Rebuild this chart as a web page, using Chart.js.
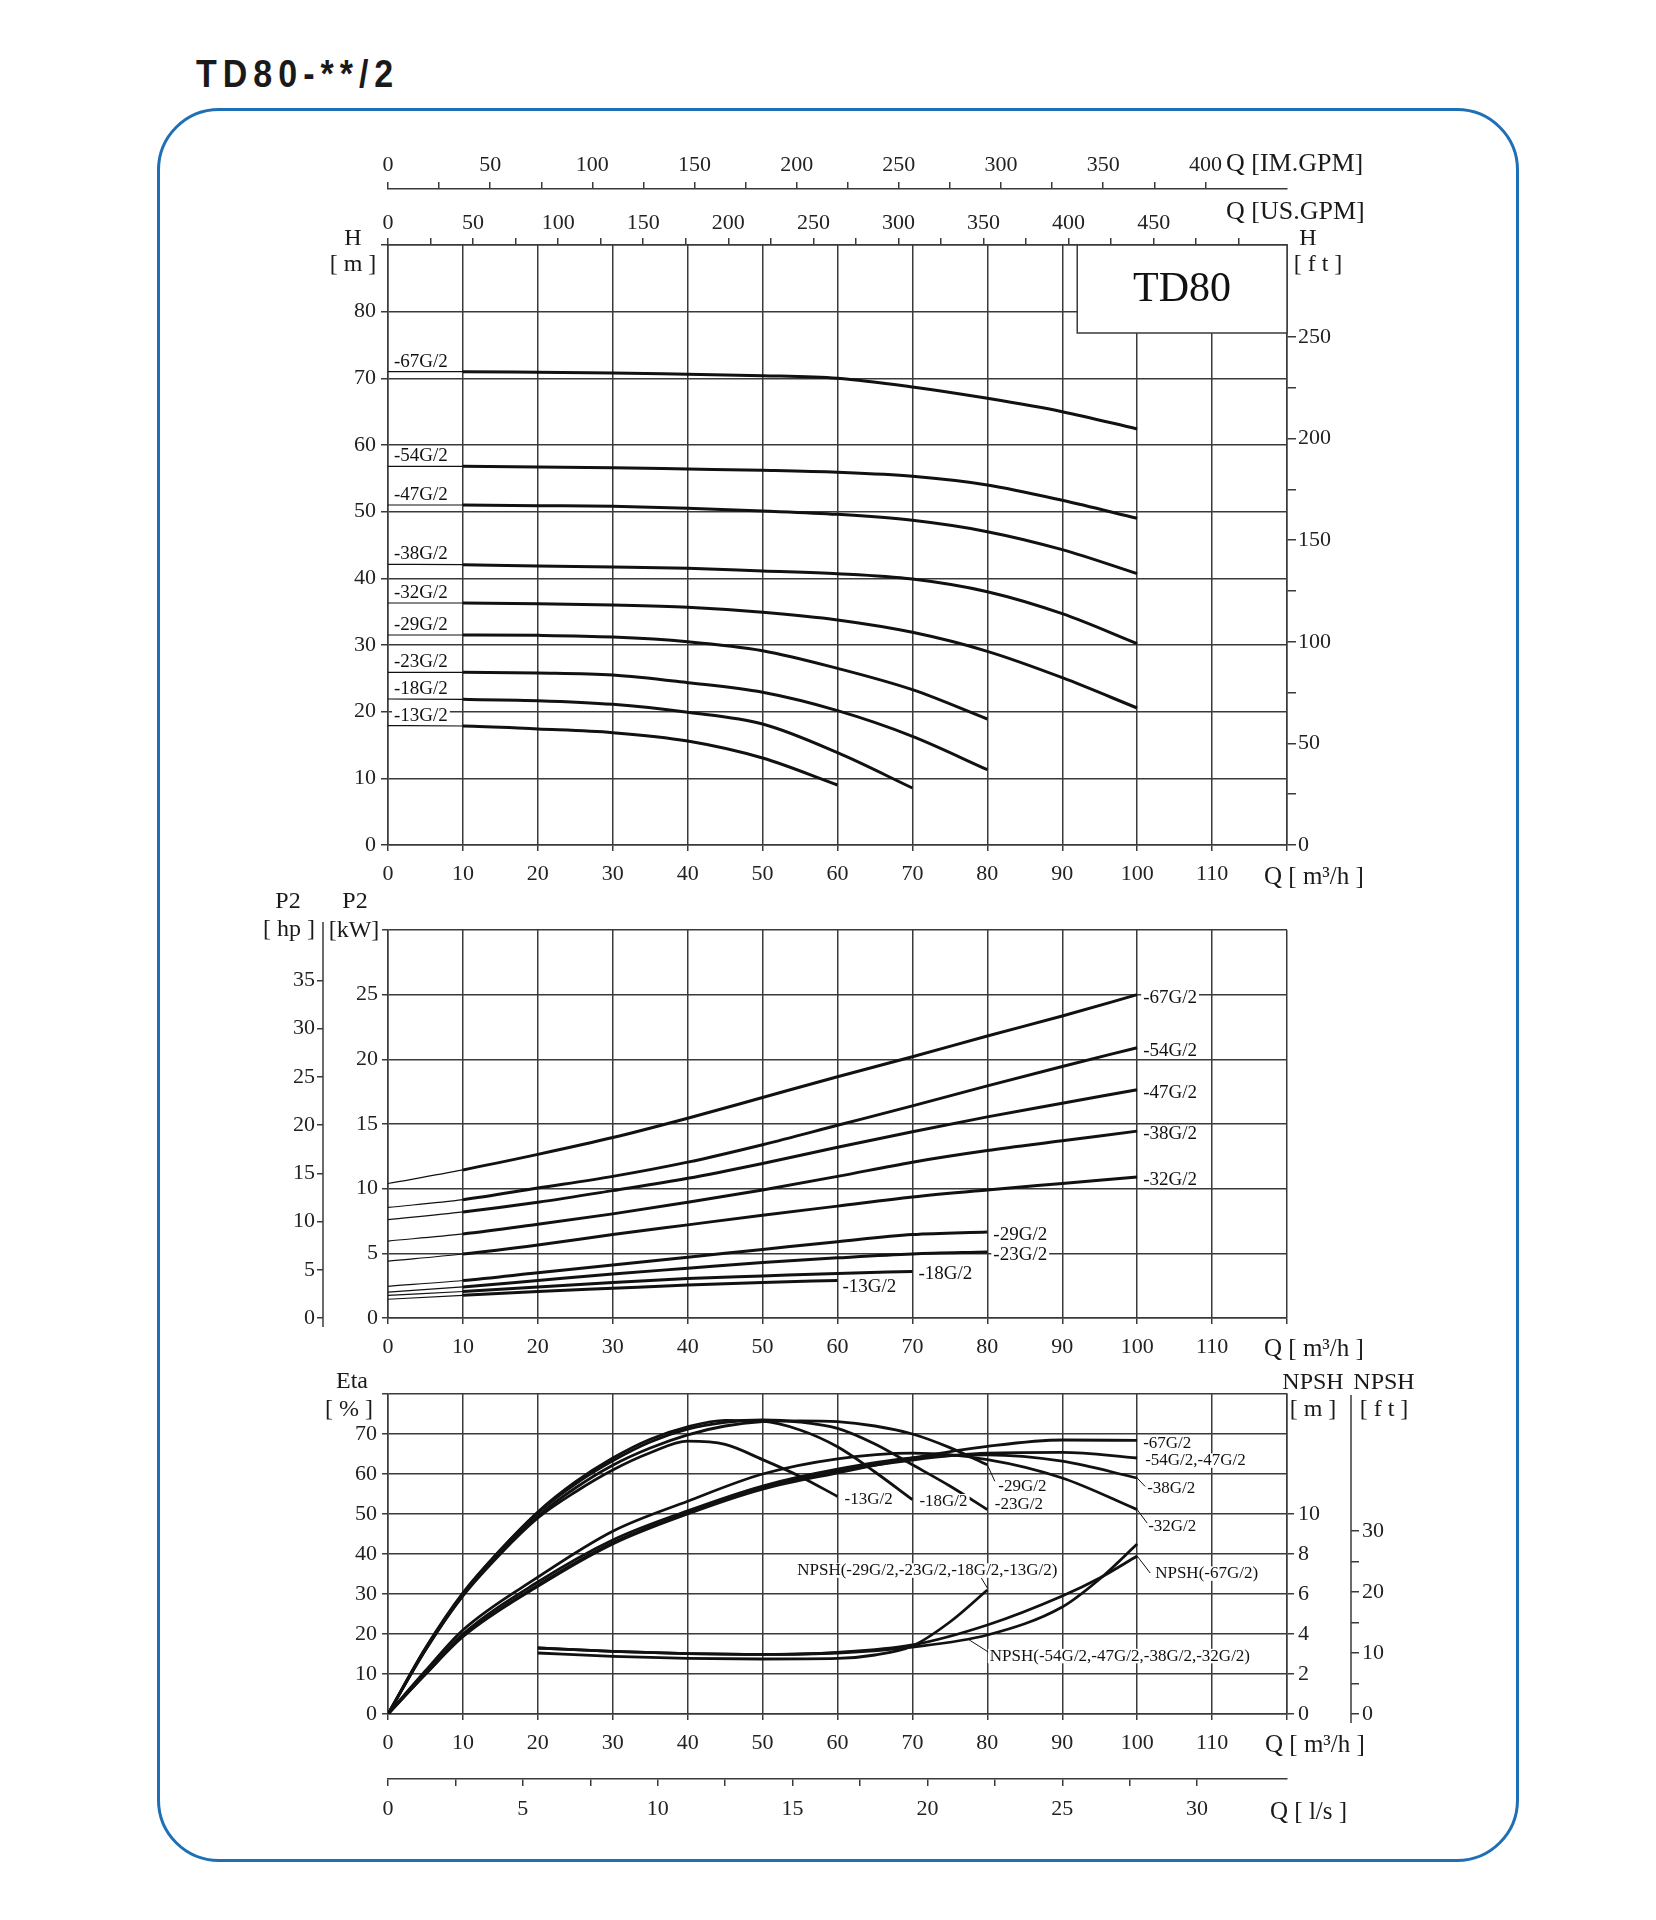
<!DOCTYPE html>
<html>
<head>
<meta charset="utf-8">
<title>TD80-**/2</title>
<script src="https://cdn.jsdelivr.net/npm/chart.js@4.4.1/dist/chart.umd.min.js"></script>
<style>
  html, body { margin: 0; padding: 0; background: #fff; }
  #page { position: relative; width: 1656px; height: 1920px; overflow: hidden; background: #fff; }
  #title { position: absolute; left: 196px; top: 54px; font: bold 34px 'Liberation Sans', Arial, sans-serif;
           line-height: 34px; letter-spacing: 6px; color: #1a1a1a; white-space: nowrap;
           transform: scaleY(1.15); transform-origin: 0 0; }
  #frame { position: absolute; left: 157px; top: 108px; width: 1362px; height: 1754px; box-sizing: border-box;
           border: 3.5px solid #1f6fb6; border-radius: 62px; }
  canvas { position: absolute; left: 0; }
</style>
</head>
<body>
<div id="page">
  <div id="title">TD80-**/2</div>
  <div id="frame"></div>
  <canvas id="headChart" width="1656" height="780" style="top:120px"></canvas>
  <canvas id="powerChart" width="1656" height="510" style="top:870px"></canvas>
  <canvas id="etaChart" width="1656" height="500" style="top:1360px"></canvas>
</div>
<script>
// ===================================
// DATA (read off the TD80-**/2 curve sheet)
// ===================================
const models = ['-67G/2', '-54G/2', '-47G/2', '-38G/2', '-32G/2', '-29G/2', '-23G/2', '-18G/2', '-13G/2'];
const flowStep = [0, 10, 20, 30, 40, 50, 60, 70, 80, 90, 100];   // m3/h

// head H [m]
const head67 = [71.0, 71.0, 70.9, 70.8, 70.6, 70.4, 70.0, 68.7, 67.0, 65.0, 62.4];
const head54 = [56.8, 56.8, 56.7, 56.6, 56.4, 56.2, 55.9, 55.3, 54.0, 51.7, 49.0];
const head47 = [51.0, 51.0, 50.9, 50.8, 50.5, 50.1, 49.6, 48.7, 47.0, 44.3, 40.7];
const head38 = [42.1, 42.05, 41.85, 41.7, 41.5, 41.1, 40.7, 39.9, 38.0, 34.7, 30.2];
const head32 = [36.3, 36.3, 36.2, 36.0, 35.65, 34.9, 33.75, 31.9, 29.05, 25.1, 20.55];
const head29 = [31.5, 31.5, 31.45, 31.2, 30.5, 29.15, 26.5, 23.3, 18.9];
const head23 = [25.9, 25.9, 25.8, 25.5, 24.35, 22.9, 20.15, 16.3, 11.3];
const head18 = [21.9, 21.85, 21.65, 21.1, 19.9, 18.15, 13.85, 8.55];
const head13 = [17.9, 17.85, 17.4, 16.85, 15.6, 13.05, 9.0];

// shaft power P2 [kW]
const power67 = [10.4, 11.45, 12.65, 13.95, 15.45, 17.05, 18.65, 20.2, 21.8, 23.35, 25.0];
const power54 = [8.55, 9.15, 10.05, 10.95, 12.05, 13.4, 14.9, 16.4, 17.95, 19.45, 20.9];
const power47 = [7.6, 8.2, 8.95, 9.85, 10.8, 11.95, 13.2, 14.4, 15.55, 16.6, 17.65];
const power38 = [5.95, 6.5, 7.25, 8.05, 8.95, 9.9, 10.95, 12.05, 12.95, 13.7, 14.45];
const power32 = [4.4, 4.95, 5.65, 6.45, 7.2, 7.95, 8.65, 9.35, 9.9, 10.4, 10.9];
const power29 = [2.45, 2.9, 3.5, 4.1, 4.7, 5.3, 5.9, 6.45, 6.65];
const power23 = [2.0, 2.4, 2.9, 3.4, 3.85, 4.3, 4.65, 4.95, 5.1];
const power18 = [1.75, 2.05, 2.4, 2.75, 3.05, 3.25, 3.45, 3.6];
const power13 = [1.45, 1.75, 2.05, 2.3, 2.55, 2.75, 2.9];

// efficiency Eta [%]
const etaFlowSmall = [0, 5, 10, 15, 20, 25, 30, 35, 40, 45, 50, 55, 60, 65, 70, 75, 80];
const eta29 = [0, 16, 29.8, 40.5, 49.5, 56.5, 62.2, 66.5, 69.8, 72, 73.1, 73.3, 73.1, 72, 70, 66.6, 62.3];
const eta23 = [0, 16.3, 30, 41, 50.3, 57.5, 63.3, 68, 71.2, 72.9, 73.5, 73, 71.4, 67.5, 62.3, 57, 51.1];
const eta18 = [0, 16.5, 30.3, 41, 50.5, 58, 64, 68.7, 71.8, 73.4, 73.2, 71, 66.8, 60.5, 53.6];
const eta13 = [0, 16, 29.5, 40, 49, 55.5, 61, 65.3, 68.2, 67.4, 63.6, 59.4, 54.4];

const etaFlowLarge = [0, 5, 10, 20, 30, 40, 50, 60, 70, 80, 90, 100];
const eta67 = [0, 9.9, 19.3, 31.9, 42.5, 50, 56.2, 60.3, 64, 66.9, 68.5, 68.4];
const eta54 = [0, 10, 19.5, 32.2, 42.8, 50.3, 56.5, 60.7, 63.5, 65.2, 65.4, 64];
const eta38 = [0, 10.3, 20, 33, 43.5, 50.8, 57, 61.2, 64, 64.8, 63.2, 59];
const eta32 = [0, 10.8, 21, 34.2, 45.7, 53.2, 60, 63.8, 65.2, 63.6, 59, 51.1];

// NPSH [m]
const npshFlowSmall = [20, 30, 40, 50, 60, 65, 70, 75, 80];
const npshSmall = [3.05, 2.88, 2.78, 2.75, 2.78, 2.95, 3.4, 4.6, 6.2];
const npshFlowLarge = [20, 30, 40, 50, 60, 70, 80, 90, 95, 100];
const npshLarge = [3.3, 3.13, 3.02, 2.98, 3.05, 3.35, 3.95, 5.35, 6.75, 8.5];
const npsh67 = [3.3, 3.13, 3.02, 2.98, 3.08, 3.45, 4.45, 5.9, 6.8, 7.9];

// unit conversions for the secondary axes
const M3H_TO_USGPM = 4.40287;
const M3H_TO_IMGPM = 3.66619;
const M_TO_FT = 1 / 0.3048;
const KW_TO_HP = 1 / 0.7457;
const M3H_TO_LS = 1 / 3.6;

const headCurves = [head67, head54, head47, head38, head32, head29, head23, head18, head13];
const powerCurves = [power67, power54, power47, power38, power32, power29, power23, power18, power13];

// ===================================
// STYLE HELPERS
// ===================================
const GRID = '#3a3a3a';
const INK = '#111';
const SERIF = "'Liberation Serif', 'Times New Roman', serif";

Chart.defaults.font.family = SERIF;
Chart.defaults.font.size = 22;
Chart.defaults.color = '#222';

function curve(flows, values, extra) {
    return Object.assign({
        data: values.map((v, i) => ({ x: flows[i], y: v })),
        borderColor: INK,
        borderWidth: 3,
        pointRadius: 0,
        fill: false,
        cubicInterpolationMode: 'monotone'
    }, extra);
}

// first stretch 0..10 m3/h is only a thin leader line
const thinLead = { segment: { borderWidth: c => (c.p0DataIndex === 0 ? 1.2 : 3) } };

function axis(o) {
    return {
        type: 'linear',
        position: o.position,
        min: 0,
        max: o.max,
        weight: o.weight || 0,
        afterFit: s => { if (s.isHorizontal()) s.height = o.size; else s.width = o.size; },
        afterBuildTicks: s => {
            if (o.limit !== undefined) s.ticks = s.ticks.filter(t => t.value <= o.limit + 1e-6);
        },
        grid: { color: GRID, lineWidth: 1.5, tickLength: o.tick, drawOnChartArea: o.onChart !== false },
        border: { display: o.border !== false, color: GRID, width: 1.5 },
        ticks: {
            stepSize: o.step, padding: o.pad, autoSkip: false, maxRotation: 0, color: '#222',
            callback: v => (o.show(v) ? String(v) : '')
        }
    };
}

function baseOptions(padding, scales) {
    return {
        responsive: false,
        animation: false,
        devicePixelRatio: 1,
        layout: { padding, autoPadding: false },
        plugins: { legend: { display: false }, tooltip: { enabled: false } },
        scales
    };
}

function tag(ctx, text, x, y, size, align) {
    ctx.font = `${size}px ${SERIF}`;
    const w = ctx.measureText(text).width;
    const left = align === 'center' ? x - w / 2 : x;
    ctx.fillStyle = '#fff';
    ctx.fillRect(left - 2, y - size * 0.45, w + 4, size * 0.85);
    ctx.fillStyle = INK;
    ctx.textAlign = 'left';
    ctx.textBaseline = 'middle';
    ctx.fillText(text, left, y);
}

function title(ctx, text, x, y, align, size) {
    ctx.font = `${size || 24}px ${SERIF}`;
    ctx.fillStyle = '#1a1a1a';
    ctx.textAlign = align;
    ctx.textBaseline = 'middle';
    ctx.fillText(text, x, y);
}

function leader(ctx, x1, y1, x2, y2) {
    ctx.strokeStyle = INK;
    ctx.lineWidth = 1;
    ctx.beginPath();
    ctx.moveTo(x1, y1);
    ctx.lineTo(x2, y2);
    ctx.stroke();
}

// ===================================
// HEAD CHART
// ===================================
const headDecor = {
    id: 'headDecor',
    afterDatasetsDraw(chart) {
        const { ctx, chartArea: a, scales: { x, y, xIM } } = chart;
        ctx.save();
        headCurves.forEach((vals, i) => {
            tag(ctx, models[i], x.getPixelForValue(0.8), y.getPixelForValue(vals[0]) - 10, 19);
        });

        // TD80 name plate
        const bx = x.getPixelForValue(92), bt = y.getPixelForValue(90), bb = y.getPixelForValue(76.8);
        ctx.fillStyle = '#fff';
        ctx.fillRect(bx, bt, a.right - bx, bb - bt);
        ctx.strokeStyle = GRID;
        ctx.lineWidth = 1.5;
        ctx.strokeRect(bx, bt, a.right - bx, bb - bt);
        ctx.fillStyle = INK;
        ctx.font = `42px ${SERIF}`;
        ctx.textAlign = 'center';
        ctx.textBaseline = 'middle';
        ctx.fillText('TD80', (bx + a.right) / 2, (bt + bb) / 2 + 1);

        title(ctx, 'H', a.left - 35, a.top - 6, 'center');
        title(ctx, '[ m ]', a.left - 35, a.top + 20, 'center');
        title(ctx, 'H', a.right + 21, a.top - 6, 'center');
        title(ctx, '[ f t ]', a.right + 31, a.top + 20, 'center');
        title(ctx, 'Q [IM.GPM]', a.right - 61, xIM.bottom - 25, 'left', 26);
        title(ctx, 'Q [US.GPM]', a.right - 61, a.top - 33, 'left', 26);
        title(ctx, 'Q [ m³/h ]', a.right - 23, a.bottom + 32, 'left', 25);
        ctx.restore();
    }
};

new Chart(document.getElementById('headChart'), {
    type: 'line',
    data: {
        datasets: headCurves.map(vals => curve(flowStep, vals, thinLead))
    },
    options: baseOptions({ left: 0, right: 0, top: 0, bottom: 0 }, {
        x: axis({ position: 'bottom', max: 120, size: 55, tick: 6, step: 10, pad: 10, show: v => v <= 110 }),
        xUS: axis({ position: 'top', max: 120 * M3H_TO_USGPM, size: 56, tick: 7, step: 25, pad: 2, weight: 0,
                    onChart: false, limit: 500, show: v => v % 50 === 0 && v <= 450 }),
        xIM: axis({ position: 'top', max: 120 * M3H_TO_IMGPM, size: 69, tick: 7, step: 25, pad: 4, weight: 1,
                    onChart: false, limit: 400, show: v => v % 50 === 0 }),
        y: axis({ position: 'left', max: 90, size: 388, tick: 7, step: 10, pad: 5, show: v => v <= 80 }),
        yFt: axis({ position: 'right', max: 90 * M_TO_FT, size: 369, tick: 9, step: 25, pad: 2,
                    onChart: false, limit: 250, show: v => v % 50 === 0 })
    }),
    plugins: [headDecor]
});

// ===================================
// POWER CHART
// ===================================
const powerDecor = {
    id: 'powerDecor',
    afterDatasetsDraw(chart) {
        const { ctx, chartArea: a, scales: { x, y, yHp } } = chart;
        ctx.save();
        powerCurves.forEach((vals, i) => {
            const last = vals.length - 1;
            const px = x.getPixelForValue(flowStep[last]);
            const py = y.getPixelForValue(vals[last]);
            const lowest = i === powerCurves.length - 1;
            tag(ctx, models[i], px + (lowest ? 5 : 6), py + (lowest ? 7 : 3), 19);
        });

        // hp axis line runs a little past the plot
        ctx.strokeStyle = GRID;
        ctx.lineWidth = 1.5;
        ctx.beginPath();
        ctx.moveTo(yHp.right, a.top - 8);
        ctx.lineTo(yHp.right, a.bottom + 9);
        ctx.stroke();

        title(ctx, 'P2', yHp.right - 35, a.top - 28, 'center');
        title(ctx, '[ hp ]', yHp.right - 34, a.top, 'center');
        title(ctx, 'P2', a.left - 33, a.top - 28, 'center');
        title(ctx, '[kW]', a.left - 34, a.top + 1, 'center');
        title(ctx, 'Q [ m³/h ]', a.right - 23, a.bottom + 31, 'left', 25);
        ctx.restore();
    }
};

new Chart(document.getElementById('powerChart'), {
    type: 'line',
    data: {
        datasets: powerCurves.map(vals => curve(flowStep, vals, thinLead))
    },
    options: baseOptions({ left: 0, right: 369, top: 60, bottom: 0 }, {
        x: axis({ position: 'bottom', max: 120, size: 62, tick: 6, step: 10, pad: 10, show: v => v <= 110 }),
        y: axis({ position: 'left', max: 30, size: 65, tick: 6, step: 5, pad: 4, weight: 0, show: v => v <= 25 }),
        yHp: axis({ position: 'left', max: 30 * KW_TO_HP, size: 323, tick: 6, step: 5, pad: 2, weight: 1,
                    onChart: false, border: false, limit: 35, show: v => v <= 35 })
    }),
    plugins: [powerDecor]
});

// ===================================
// EFFICIENCY / NPSH CHART
// ===================================
const etaDecor = {
    id: 'etaDecor',
    afterDatasetsDraw(chart) {
        const { ctx, chartArea: a, scales: { x, y, yN, yNft } } = chart;
        const end = (flows, vals, sc) => ({
            x: x.getPixelForValue(flows[vals.length - 1]),
            y: sc.getPixelForValue(vals[vals.length - 1])
        });
        ctx.save();
        const fs = 17;

        let p = end(etaFlowSmall, eta13, y);
        tag(ctx, '-13G/2', p.x + 7, p.y + 3, fs);
        p = end(etaFlowSmall, eta18, y);
        tag(ctx, '-18G/2', p.x + 7, p.y + 2, fs);
        p = end(etaFlowSmall, eta23, y);
        tag(ctx, '-23G/2', p.x + 7.5, p.y - 5, fs);
        p = end(etaFlowSmall, eta29, y);
        tag(ctx, '-29G/2', p.x + 11, p.y + 21.5, fs);
        leader(ctx, p.x, p.y, p.x + 7.5, p.y + 16.5);

        p = end(etaFlowLarge, eta67, y);
        tag(ctx, '-67G/2', p.x + 6, p.y + 3, fs);
        p = end(etaFlowLarge, eta54, y);
        tag(ctx, '-54G/2,-47G/2', p.x + 8, p.y + 3, fs);
        p = end(etaFlowLarge, eta38, y);
        tag(ctx, '-38G/2', p.x + 10, p.y + 11, fs);
        leader(ctx, p.x, p.y, p.x + 8, p.y + 8.5);
        p = end(etaFlowLarge, eta32, y);
        tag(ctx, '-32G/2', p.x + 11, p.y + 17, fs);
        leader(ctx, p.x, p.y, p.x + 10, p.y + 13.5);

        p = end(npshFlowLarge, npsh67, yN);
        tag(ctx, 'NPSH(-67G/2)', p.x + 18, p.y + 18, fs);
        leader(ctx, p.x, p.y, p.x + 13, p.y + 17);
        p = end(npshFlowSmall, npshSmall, yN);
        tag(ctx, 'NPSH(-29G/2,-23G/2,-18G/2,-13G/2)', p.x - 60, p.y - 19, fs, 'center');
        leader(ctx, p.x - 6, p.y - 12, p.x, p.y - 2);
        p = { x: x.getPixelForValue(npshFlowLarge[6]), y: yN.getPixelForValue(npshLarge[6]) };
        tag(ctx, 'NPSH(-54G/2,-47G/2,-38G/2,-32G/2)', p.x + 2.5, p.y + 21.5, fs);
        leader(ctx, p.x - 18, p.y + 5, p.x + 1, p.y + 17);

        // NPSH [ft] axis line
        ctx.strokeStyle = GRID;
        ctx.lineWidth = 1.5;
        ctx.beginPath();
        ctx.moveTo(yNft.left, a.top + 1);
        ctx.lineTo(yNft.left, a.bottom + 9);
        ctx.stroke();

        title(ctx, 'Eta', a.left - 36, a.top - 12, 'center');
        title(ctx, '[ % ]', a.left - 39, a.top + 16, 'center');
        title(ctx, 'NPSH', a.right + 26, a.top - 11, 'center');
        title(ctx, '[ m ]', a.right + 26, a.top + 16, 'center');
        title(ctx, 'NPSH', yNft.left + 33, a.top - 11, 'center');
        title(ctx, '[ f t ]', yNft.left + 33, a.top + 16, 'center');
        title(ctx, 'Q [ m³/h ]', a.right - 22, a.bottom + 31, 'left', 25);
        title(ctx, 'Q [ l/s ]', a.right - 17, a.bottom + 98, 'left', 25);
        ctx.restore();
    }
};

const etaWidth = { borderWidth: 2.8 };
const npshSet = { borderWidth: 2.8, yAxisID: 'yN' };

new Chart(document.getElementById('etaChart'), {
    type: 'line',
    data: {
        datasets: [
            curve(etaFlowSmall, eta29, etaWidth),
            curve(etaFlowSmall, eta23, etaWidth),
            curve(etaFlowSmall, eta18, etaWidth),
            curve(etaFlowSmall, eta13, etaWidth),
            curve(etaFlowLarge, eta67, etaWidth),
            curve(etaFlowLarge, eta54, etaWidth),
            curve(etaFlowLarge, eta38, etaWidth),
            curve(etaFlowLarge, eta32, etaWidth),
            curve(npshFlowSmall, npshSmall, npshSet),
            curve(npshFlowLarge, npshLarge, npshSet),
            curve(npshFlowLarge, npsh67, npshSet)
        ]
    },
    options: baseOptions({ left: 0, right: 0, top: 34, bottom: 0 }, {
        x: axis({ position: 'bottom', max: 120, size: 65, tick: 6, step: 10, pad: 10, weight: 0, show: v => v <= 110 }),
        xLs: axis({ position: 'bottom', max: 120 * M3H_TO_LS, size: 81, tick: 7, step: 2.5, pad: 10, weight: 1,
                    onChart: false, limit: 32.5, show: v => v % 5 === 0 && v <= 30 }),
        y: axis({ position: 'left', max: 80, size: 388, tick: 6, step: 10, pad: 5, show: v => v <= 70 }),
        yN: axis({ position: 'right', max: 16, size: 64, tick: 7, step: 2, pad: 4, weight: 0,
                   onChart: false, limit: 10, show: v => v <= 10 }),
        yNft: axis({ position: 'right', max: 16 * M_TO_FT, size: 305, tick: 8, step: 5, pad: 3, weight: 1,
                     onChart: false, border: false, limit: 30, show: v => v % 10 === 0 })
    }),
    plugins: [etaDecor]
});
</script>
</body>
</html>
